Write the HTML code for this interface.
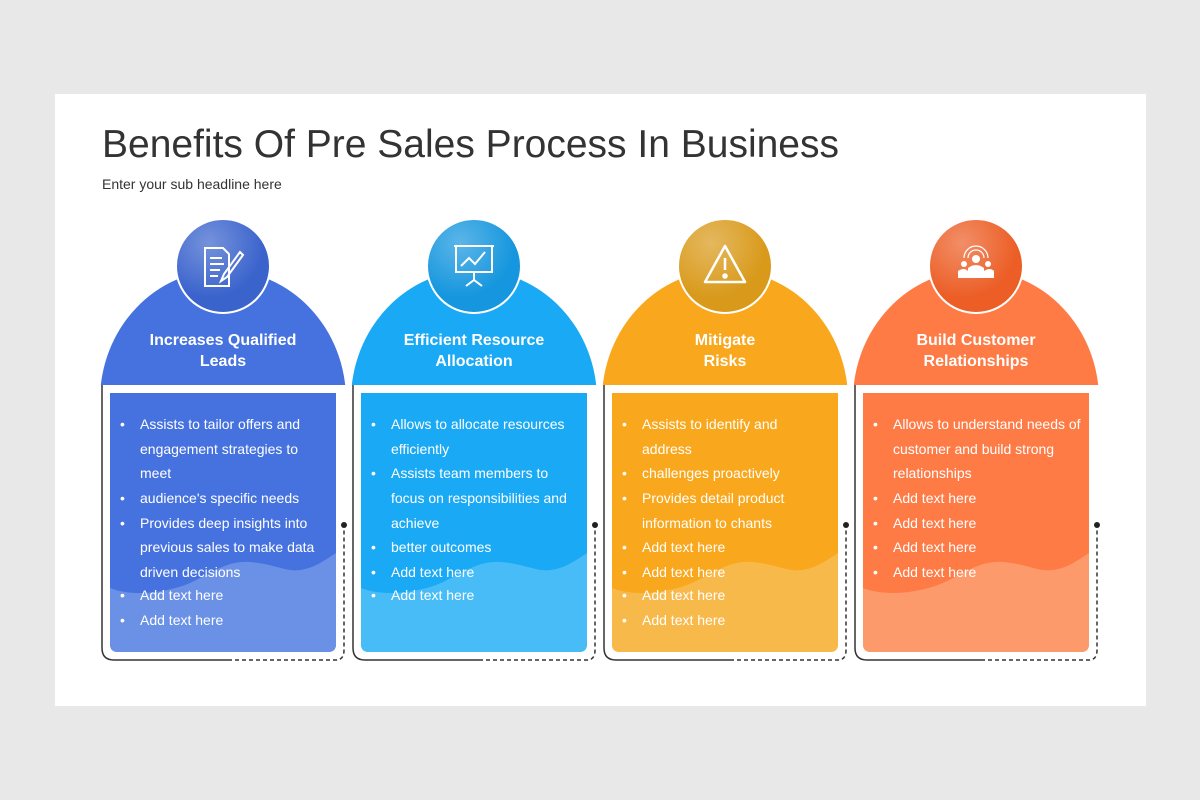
<!DOCTYPE html>
<html><head><meta charset="utf-8"><style>
html,body{margin:0;padding:0;background:#e9e8e9;}
svg{display:block;font-family:"Liberation Sans",Arial,sans-serif;}
</style></head><body>
<svg width="1200" height="800" viewBox="0 0 1200 800" xmlns="http://www.w3.org/2000/svg">
<defs>
<clipPath id="domeclip"><rect x="0" y="0" width="1200" height="385"/></clipPath>
<radialGradient id="shine" cx="0.35" cy="0.25" r="0.6"><stop offset="0" stop-color="#fff" stop-opacity="0.3"/><stop offset="1" stop-color="#fff" stop-opacity="0"/></radialGradient>
</defs>
<rect x="55" y="94" width="1091" height="612" fill="#ffffff"/>
<text x="102" y="157" font-size="39" fill="#333">Benefits Of Pre Sales Process In Business</text>
<text x="102" y="189" font-size="14" fill="#333">Enter your sub headline here</text>

<g id="c0">
<g clip-path="url(#domeclip)"><ellipse cx="223" cy="400" rx="123" ry="130" fill="#4672df"/></g>
<path d="M102,385 L102,648 Q102,660 114,660 L228,660" fill="none" stroke="#333" stroke-width="1.5"/>
<path d="M228,660 L336,660 Q344,660 344,650 L344,525" fill="none" stroke="#333" stroke-width="1.5" stroke-dasharray="4,3"/>
<circle cx="344" cy="525" r="3" fill="#222"/>
<path d="M110,393 H336 V644 Q336,652 328,652 H118 Q110,652 110,644 Z" fill="#4672df"/>
<path d="M110,588 C130,596 160,594 185,585 C210,575 225,560 250,562 C275,564 285,572 300,570 C315,568 325,560 336,553 V644 Q336,652 328,652 H118 Q110,652 110,644 Z" fill="#6a91e6"/>
<circle cx="223" cy="266" r="47" fill="#3a63cc" stroke="#fff" stroke-width="2"/>
<circle cx="223" cy="266" r="46" fill="url(#shine)"/>
<text x="223" y="345" font-size="16" font-weight="bold" fill="#fff" text-anchor="middle">Increases Qualified</text>
<text x="223" y="366" font-size="16" font-weight="bold" fill="#fff" text-anchor="middle">Leads</text>
<g fill="none" stroke="#fff" stroke-width="2"><path d="M205,248 h18 l6,6 v32 h-24 z"/><path d="M210,258 h12 M210,264 h14 M210,270 h10 M210,276 h8"/><path d="M240,252 l-16,22 l-3,7 l6,-4 l16,-22 z"/></g>
<g fill="#fff" font-size="14"><text x="120" y="429">•</text><text x="140" y="429">Assists to tailor offers and</text><text x="140" y="454">engagement strategies to</text><text x="140" y="478">meet</text><text x="120" y="503">•</text><text x="140" y="503">audience's specific needs</text><text x="120" y="528">•</text><text x="140" y="528">Provides deep insights into</text><text x="140" y="552">previous sales to make data</text><text x="140" y="577">driven decisions</text><text x="120" y="600">•</text><text x="140" y="600">Add text here</text><text x="120" y="625">•</text><text x="140" y="625">Add text here</text></g>
</g>

<g transform="translate(251,0)">
<g clip-path="url(#domeclip)"><ellipse cx="223" cy="400" rx="123" ry="130" fill="#1aa9f5"/></g>
<path d="M102,385 L102,648 Q102,660 114,660 L228,660" fill="none" stroke="#333" stroke-width="1.5"/>
<path d="M228,660 L336,660 Q344,660 344,650 L344,525" fill="none" stroke="#333" stroke-width="1.5" stroke-dasharray="4,3"/>
<circle cx="344" cy="525" r="3" fill="#222"/>
<path d="M110,393 H336 V644 Q336,652 328,652 H118 Q110,652 110,644 Z" fill="#1aa9f5"/>
<path d="M110,588 C130,596 160,594 185,585 C210,575 225,560 250,562 C275,564 285,572 300,570 C315,568 325,560 336,553 V644 Q336,652 328,652 H118 Q110,652 110,644 Z" fill="#47bcf7"/>
<circle cx="223" cy="266" r="47" fill="#1596de" stroke="#fff" stroke-width="2"/>
<circle cx="223" cy="266" r="46" fill="url(#shine)"/>
<text x="223" y="345" font-size="16" font-weight="bold" fill="#fff" text-anchor="middle">Efficient Resource</text>
<text x="223" y="366" font-size="16" font-weight="bold" fill="#fff" text-anchor="middle">Allocation</text>
<g fill="none" stroke="#fff" stroke-width="2"><rect x="205" y="246" width="36" height="26"/><path d="M203,246 h40 M223,272 v8 M223,280 l-8,6 M223,280 l8,6 M210,266 l8,-8 l6,6 l10,-12"/></g>
<g fill="#fff" font-size="14"><text x="120" y="429">•</text><text x="140" y="429">Allows to allocate resources</text><text x="140" y="454">efficiently</text><text x="120" y="478">•</text><text x="140" y="478">Assists team members to</text><text x="140" y="503">focus on responsibilities and</text><text x="140" y="528">achieve</text><text x="120" y="552">•</text><text x="140" y="552">better outcomes</text><text x="120" y="577">•</text><text x="140" y="577">Add text here</text><text x="120" y="600">•</text><text x="140" y="600">Add text here</text></g>
</g>

<g transform="translate(502,0)">
<g clip-path="url(#domeclip)"><ellipse cx="223" cy="400" rx="123" ry="130" fill="#f9a71c"/></g>
<path d="M102,385 L102,648 Q102,660 114,660 L228,660" fill="none" stroke="#333" stroke-width="1.5"/>
<path d="M228,660 L336,660 Q344,660 344,650 L344,525" fill="none" stroke="#333" stroke-width="1.5" stroke-dasharray="4,3"/>
<circle cx="344" cy="525" r="3" fill="#222"/>
<path d="M110,393 H336 V644 Q336,652 328,652 H118 Q110,652 110,644 Z" fill="#f9a71c"/>
<path d="M110,588 C130,596 160,594 185,585 C210,575 225,560 250,562 C275,564 285,572 300,570 C315,568 325,560 336,553 V644 Q336,652 328,652 H118 Q110,652 110,644 Z" fill="#f8b94b"/>
<circle cx="223" cy="266" r="47" fill="#d99a1b" stroke="#fff" stroke-width="2"/>
<circle cx="223" cy="266" r="46" fill="url(#shine)"/>
<text x="223" y="345" font-size="16" font-weight="bold" fill="#fff" text-anchor="middle">Mitigate</text>
<text x="223" y="366" font-size="16" font-weight="bold" fill="#fff" text-anchor="middle">Risks</text>
<g fill="none" stroke="#fff" stroke-width="2.5" stroke-linejoin="round"><path d="M223,246 L243,282 H203 Z"/><path d="M223,258 v12"/><circle cx="223" cy="276" r="1.5"/></g>
<g fill="#fff" font-size="14"><text x="120" y="429">•</text><text x="140" y="429">Assists to identify and</text><text x="140" y="454">address</text><text x="120" y="478">•</text><text x="140" y="478">challenges proactively</text><text x="120" y="503">•</text><text x="140" y="503">Provides detail product</text><text x="140" y="528">information to chants</text><text x="120" y="552">•</text><text x="140" y="552">Add text here</text><text x="120" y="577">•</text><text x="140" y="577">Add text here</text><text x="120" y="600">•</text><text x="140" y="600">Add text here</text><text x="120" y="625">•</text><text x="140" y="625">Add text here</text></g>
</g>

<g transform="translate(753,0)">
<g clip-path="url(#domeclip)"><ellipse cx="223" cy="400" rx="123" ry="130" fill="#fe7b46"/></g>
<path d="M102,385 L102,648 Q102,660 114,660 L228,660" fill="none" stroke="#333" stroke-width="1.5"/>
<path d="M228,660 L336,660 Q344,660 344,650 L344,525" fill="none" stroke="#333" stroke-width="1.5" stroke-dasharray="4,3"/>
<circle cx="344" cy="525" r="3" fill="#222"/>
<path d="M110,393 H336 V644 Q336,652 328,652 H118 Q110,652 110,644 Z" fill="#fe7b46"/>
<path d="M110,588 C130,596 160,594 185,585 C210,575 225,560 250,562 C275,564 285,572 300,570 C315,568 325,560 336,553 V644 Q336,652 328,652 H118 Q110,652 110,644 Z" fill="#fd9a6c"/>
<circle cx="223" cy="266" r="47" fill="#ec5e26" stroke="#fff" stroke-width="2"/>
<circle cx="223" cy="266" r="46" fill="url(#shine)"/>
<text x="223" y="345" font-size="16" font-weight="bold" fill="#fff" text-anchor="middle">Build Customer</text>
<text x="223" y="366" font-size="16" font-weight="bold" fill="#fff" text-anchor="middle">Relationships</text>
<g fill="#fff"><circle cx="223" cy="259" r="4"/><path d="M215,278 v-10 q8,-6 16,0 v10 z"/><circle cx="211" cy="264" r="3"/><path d="M205,278 v-7 q6,-4 10,0 v7 z"/><circle cx="235" cy="264" r="3"/><path d="M231,278 v-7 q6,-4 10,0 v7 z"/></g>
<g fill="none" stroke="#fff" stroke-width="1.2"><path d="M215,258 a8,8 0 0 1 16,0"/><path d="M211,258 a12,12 0 0 1 24,0"/></g>
<g fill="#fff" font-size="14"><text x="120" y="429">•</text><text x="140" y="429">Allows to understand needs of</text><text x="140" y="454">customer and build strong</text><text x="140" y="478">relationships</text><text x="120" y="503">•</text><text x="140" y="503">Add text here</text><text x="120" y="528">•</text><text x="140" y="528">Add text here</text><text x="120" y="552">•</text><text x="140" y="552">Add text here</text><text x="120" y="577">•</text><text x="140" y="577">Add text here</text></g>
</g>
</svg>
</body></html>
